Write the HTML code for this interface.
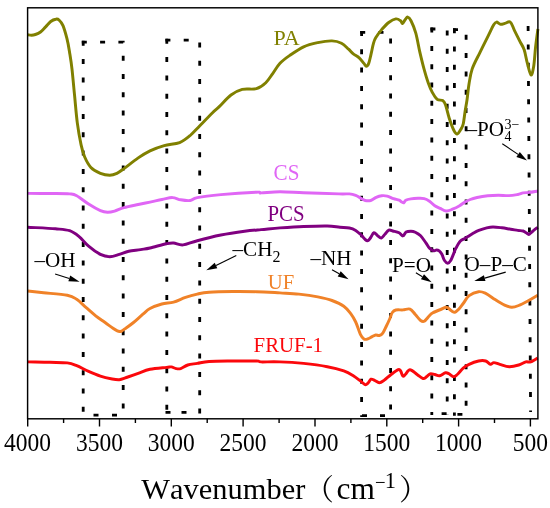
<!DOCTYPE html><html><head><meta charset="utf-8"><title>FTIR</title>
<style>html,body{margin:0;padding:0;background:#fff}svg{display:block}text{font-family:"Liberation Serif","Noto Serif CJK SC",serif}</style></head><body>
<svg width="550" height="508" viewBox="0 0 550 508">
<rect width="550" height="508" fill="#fff"/>
<g fill="none" stroke="#000" stroke-width="2.8" stroke-dasharray="5 13.30">
<path d="M81.8 42.2H123.2V416.5"/>
<path d="M83.2 40.8V416.5"/>
<path d="M165.4 40.2H199.7V413.8"/>
<path d="M166.8 38.8V413.8"/>
<path d="M360.2 32.4H390.6V417.1"/>
<path d="M361.6 31.0V417.1"/>
<path d="M430.4 29.0H447.2V415.1"/>
<path d="M431.8 27.6V415.1"/>
<path d="M453.0 29.6H466.1V415.8"/>
<path d="M454.4 28.2V415.8"/>
<path d="M528.1 26.1L530.6 412.1"/>
</g>
<path d="M93.5 415.1h5M112.0 415.1h5M165.5 412.4h5M181.5 412.4h5M362.0 415.7h5M380.0 415.7h5M441.6 413.7h5M457.4 414.4h5" stroke="#000" stroke-width="2.8" fill="none"/>
<g fill="none" stroke-width="2.95" stroke-linejoin="round" stroke-linecap="butt">
<path stroke="#808000" d="M27.8 34.8C28.4 34.9 30.2 35.3 31.5 35.3C32.8 35.2 33.9 35.0 35.4 34.5C36.9 34.0 38.8 33.3 40.5 32.0C42.2 30.7 43.9 28.6 45.6 26.9C47.3 25.1 49.0 22.8 50.7 21.5C52.4 20.2 54.4 19.4 55.8 19.2C57.2 18.9 57.8 18.9 59.0 20.0C60.2 21.1 61.7 22.5 63.0 25.6C64.3 28.7 65.8 34.1 66.9 38.4C68.0 42.7 68.6 46.1 69.4 51.2C70.2 56.3 71.2 61.8 72.0 69.1C72.8 76.3 73.6 85.7 74.5 94.7C75.4 103.7 76.2 114.5 77.3 122.9C78.4 131.3 79.9 139.3 81.1 144.9C82.3 150.5 83.0 152.9 84.6 156.7C86.2 160.4 88.3 164.6 90.9 167.4C93.5 170.2 97.2 172.0 100.4 173.3C103.6 174.6 107.0 175.2 109.8 175.2C112.5 175.2 114.5 174.4 116.9 173.3C119.3 172.2 120.5 171.2 124.0 168.6C127.5 166.0 133.9 160.9 138.2 157.9C142.5 154.9 145.7 152.9 150.0 150.8C154.3 148.8 159.3 147.0 164.2 145.6C169.1 144.2 175.3 144.3 179.6 142.6C183.9 140.9 186.9 138.3 190.2 135.5C193.5 132.7 195.9 129.8 199.6 126.0C203.3 122.2 209.0 116.3 212.3 113.0C215.6 109.7 216.4 109.4 219.5 106.4C222.6 103.4 227.2 97.8 231.0 95.0C234.8 92.2 238.0 90.5 242.2 89.4C246.4 88.4 252.5 89.8 256.4 88.7C260.3 87.6 263.1 85.3 265.8 82.7C268.6 80.1 270.5 76.5 272.9 73.3C275.3 70.0 277.2 66.2 280.0 63.2C282.8 60.2 285.6 58.3 289.5 55.6C293.4 52.9 298.9 49.0 303.6 46.8C308.3 44.6 313.1 43.6 317.8 42.6C322.5 41.6 328.1 40.8 332.0 40.9C335.9 41.0 338.7 41.9 341.5 43.3C344.3 44.7 346.6 47.4 348.6 49.2C350.6 51.0 351.5 52.5 353.3 53.9C355.1 55.3 357.4 56.3 359.2 57.9C361.0 59.5 362.7 62.0 363.9 63.4C365.1 64.8 365.5 66.2 366.3 66.2C367.1 66.2 367.9 65.4 368.7 63.4C369.5 61.4 370.2 57.7 371.0 54.4C371.8 51.1 372.6 46.5 373.4 43.7C374.2 40.9 374.3 40.1 375.7 37.8C377.1 35.4 379.5 32.1 381.7 29.6C383.9 27.1 386.3 24.3 388.7 22.5C391.1 20.7 393.8 19.2 395.8 18.9C397.8 18.6 399.5 20.0 400.6 20.8C401.7 21.6 401.7 23.8 402.5 23.6C403.3 23.4 404.4 20.6 405.3 19.5C406.2 18.4 406.8 16.9 407.7 17.1C408.6 17.3 409.6 18.0 411.0 20.7C412.4 23.4 414.3 27.8 415.8 33.1C417.3 38.4 418.5 46.4 419.9 52.4C421.3 58.4 422.6 63.9 424.0 68.9C425.4 74.0 426.8 78.8 428.2 82.7C429.6 86.6 430.8 89.6 432.3 92.4C433.8 95.2 435.5 97.9 437.2 99.3C438.9 100.7 441.3 99.7 442.7 100.6C444.1 101.5 444.4 101.8 445.5 104.8C446.6 107.8 447.9 114.3 449.3 118.5C450.7 122.7 452.4 127.4 453.7 130.0C455.0 132.6 456.0 134.1 457.2 134.0C458.4 133.9 459.7 131.3 460.7 129.6C461.7 127.9 462.5 126.9 463.2 124.0C463.9 121.1 464.4 116.0 465.0 112.0C465.6 108.0 466.3 104.7 467.0 100.0C467.7 95.3 468.1 89.2 469.0 84.0C469.9 78.8 470.4 74.2 472.2 68.9C474.0 63.6 477.3 57.9 480.0 52.4C482.7 46.9 485.9 40.4 488.2 35.8C490.5 31.2 492.3 27.1 493.7 24.8C495.1 22.5 495.4 22.2 496.5 22.1C497.6 22.0 499.2 24.1 500.6 24.3C502.0 24.5 503.2 23.8 504.8 23.4C506.4 23.0 508.7 21.0 510.3 22.1C511.9 23.2 512.8 27.1 514.4 30.3C516.0 33.5 518.3 38.2 519.9 41.4C521.5 44.6 522.9 45.9 524.1 49.6C525.4 53.3 526.2 59.2 527.4 63.4C528.5 67.6 530.0 74.5 531.0 75.0C532.0 75.5 532.9 70.9 533.7 66.2C534.5 61.5 534.9 53.1 535.6 46.9C536.3 40.7 537.5 32.0 537.9 29.0"/>
<path stroke="#e066f5" d="M27.8 193.4C31.5 193.4 43.0 193.4 50.0 193.5C57.0 193.6 65.1 193.5 69.6 193.9C74.0 194.3 73.5 194.0 76.7 195.7C79.9 197.4 84.6 201.5 88.6 204.0C92.5 206.5 97.2 209.2 100.4 210.6C103.6 212.0 105.1 212.2 107.5 212.3C109.9 212.4 111.8 211.9 114.6 211.1C117.3 210.3 120.1 208.7 124.0 207.6C127.9 206.5 133.9 205.4 138.2 204.5C142.5 203.6 146.0 202.9 150.0 202.1C154.0 201.3 158.2 200.2 162.0 199.5C165.8 198.8 169.4 197.5 172.5 197.6C175.6 197.7 177.8 199.3 180.7 199.8C183.6 200.3 187.4 200.9 190.2 200.5C193.0 200.1 192.2 198.6 197.3 197.6C202.4 196.6 211.1 195.5 220.9 194.6C230.8 193.7 249.7 192.5 256.4 192.2C263.1 191.9 257.2 193.0 261.1 192.9C265.0 192.8 272.9 191.7 280.0 191.7C287.1 191.7 293.8 192.3 303.6 192.7C313.5 193.1 331.5 193.7 339.1 193.9C346.7 194.1 346.6 193.7 349.4 193.9C352.2 194.1 353.8 194.6 355.7 195.3C357.6 196.0 358.9 197.2 360.5 198.1C362.1 199.0 363.5 200.1 365.2 200.5C366.9 200.9 368.9 201.0 370.7 200.5C372.5 200.0 374.4 198.1 376.2 197.3C378.0 196.5 379.9 195.9 381.7 195.7C383.5 195.5 385.2 195.6 387.2 196.1C389.2 196.6 391.5 197.9 393.5 198.6C395.5 199.3 397.7 199.6 399.1 200.2C400.5 200.8 400.9 201.6 401.7 202.0C402.5 202.4 403.1 203.1 403.8 202.8C404.5 202.5 404.6 200.8 405.8 200.2C407.0 199.5 408.9 199.2 410.9 198.9C412.9 198.6 415.8 198.4 418.0 198.3C420.2 198.2 422.3 198.1 424.2 198.6C426.1 199.1 427.7 200.0 429.5 201.2C431.3 202.4 433.0 204.5 434.8 205.7C436.6 206.9 438.2 207.4 440.1 208.3C442.0 209.2 444.2 210.8 446.3 211.0C448.4 211.2 450.3 210.1 452.5 209.2C454.7 208.3 457.5 206.9 459.6 205.7C461.7 204.5 463.1 203.1 464.9 202.1C466.7 201.1 468.2 200.3 470.2 199.5C472.2 198.7 474.2 198.1 477.1 197.5C480.0 196.9 484.2 196.2 487.7 195.8C491.2 195.4 494.8 195.2 498.3 195.2C501.8 195.2 505.6 195.7 508.9 195.6C512.1 195.5 515.4 194.9 517.8 194.5C520.2 194.1 521.2 193.2 523.1 192.9C525.0 192.6 526.8 192.7 529.3 192.4C531.8 192.1 536.4 191.2 537.8 191.0"/>
<path stroke="#800080" d="M27.8 227.2C32.4 227.5 48.5 228.2 55.5 228.8C62.5 229.4 65.7 229.4 69.6 230.7C73.5 232.0 75.9 234.0 79.1 236.6C82.3 239.2 85.0 243.1 88.6 246.1C92.1 249.1 96.9 252.6 100.4 254.4C103.9 256.2 106.7 256.7 109.8 256.7C112.9 256.7 116.2 255.3 119.3 254.4C122.4 253.5 125.1 252.1 128.7 251.3C132.2 250.5 137.0 250.2 140.6 249.6C144.2 249.0 145.7 249.0 150.0 248.0C154.3 247.0 162.6 244.5 166.5 243.7C170.4 242.9 170.8 242.8 173.6 243.0C176.4 243.2 179.1 245.3 183.1 244.9C187.1 244.5 191.0 242.3 197.3 240.7C203.6 239.0 213.0 236.6 220.9 235.0C228.8 233.4 237.9 232.1 244.6 231.2C251.3 230.3 255.2 230.1 261.1 229.6C267.0 229.1 272.9 228.4 280.0 227.9C287.1 227.4 295.7 226.8 303.6 226.5C311.5 226.2 321.2 225.9 327.3 226.0C333.4 226.1 336.3 226.9 340.0 227.2C343.7 227.5 346.8 227.5 349.4 228.0C352.0 228.5 353.7 229.2 355.7 230.4C357.7 231.6 359.7 233.6 361.3 235.1C362.9 236.6 364.1 238.6 365.2 239.5C366.3 240.4 367.1 240.9 368.0 240.6C368.9 240.3 369.7 238.8 370.7 237.5C371.7 236.2 372.7 233.1 373.9 232.8C375.1 232.5 376.6 235.0 377.8 235.9C379.0 236.8 380.1 238.3 381.3 238.0C382.5 237.7 383.6 235.6 384.9 234.3C386.1 233.0 387.4 230.6 388.8 230.1C390.2 229.6 391.8 230.8 393.5 231.2C395.2 231.6 397.5 232.0 399.1 232.8C400.7 233.6 401.8 236.0 403.0 235.9C404.2 235.8 404.8 232.8 406.1 232.0C407.4 231.2 409.4 231.2 410.9 231.2C412.4 231.2 413.7 231.4 415.3 232.2C416.9 233.0 418.8 234.0 420.6 235.8C422.4 237.6 424.4 240.8 425.9 242.8C427.4 244.9 428.2 246.8 429.5 248.1C430.8 249.4 432.7 250.5 433.9 250.8C435.1 251.1 435.6 249.9 436.5 249.9C437.4 249.9 438.3 250.1 439.2 250.8C440.1 251.5 441.0 252.7 441.9 254.3C442.8 255.9 443.5 259.0 444.5 260.5C445.5 262.0 446.7 263.2 447.7 263.2C448.7 263.2 449.8 262.0 450.7 260.5C451.6 259.0 452.5 256.4 453.4 254.3C454.3 252.2 454.8 250.3 456.0 248.1C457.2 245.9 458.9 242.7 460.4 241.1C461.9 239.5 463.6 239.2 464.9 238.4C466.2 237.6 467.0 237.2 468.4 236.3C469.8 235.4 471.8 234.1 473.5 233.1C475.2 232.1 476.7 231.2 478.8 230.4C480.9 229.6 483.5 228.7 485.9 228.1C488.3 227.5 490.3 226.9 493.0 226.9C495.7 226.9 498.9 227.4 501.9 227.8C504.8 228.2 508.1 228.8 510.7 229.2C513.4 229.6 515.7 230.1 517.8 230.4C519.9 230.7 521.6 230.6 523.1 231.0C524.6 231.4 525.7 232.5 526.6 233.1C527.5 233.7 528.0 234.6 528.8 234.5C529.5 234.4 530.1 233.5 531.1 232.7C532.1 231.9 533.5 230.5 534.6 229.6C535.7 228.7 537.3 227.8 537.8 227.4"/>
<path stroke="#f08228" d="M27.8 291.0C30.4 291.3 37.0 292.0 43.6 292.7C50.2 293.4 61.8 294.2 67.3 295.3C72.8 296.4 73.5 297.2 76.7 299.3C79.9 301.4 83.0 304.9 86.2 307.6C89.4 310.4 92.6 313.3 95.7 315.8C98.8 318.3 102.2 320.4 105.1 322.5C108.0 324.6 111.0 326.9 113.0 328.3C115.0 329.7 116.2 330.3 117.3 330.8C118.4 331.3 118.9 331.4 119.6 331.5C120.3 331.6 120.7 331.6 121.6 331.1C122.5 330.6 123.2 330.0 125.2 328.6C127.2 327.2 130.6 324.9 133.5 322.5C136.4 320.1 140.2 316.5 142.9 314.2C145.7 311.9 146.8 310.2 150.0 308.5C153.2 306.8 157.9 305.1 161.8 304.0C165.7 302.9 169.7 303.2 173.6 302.1C177.5 301.0 181.6 298.7 185.5 297.4C189.4 296.1 193.4 295.0 197.3 294.1C201.2 293.2 203.2 292.6 209.1 292.2C215.0 291.8 224.8 291.6 232.7 291.5C240.6 291.4 248.5 291.5 256.4 291.7C264.3 291.9 272.9 292.5 280.0 292.9C287.1 293.3 292.6 293.4 298.9 294.1C305.2 294.8 312.3 295.8 317.8 296.9C323.3 298.0 327.7 298.9 332.0 300.5C336.3 302.1 340.7 304.0 343.8 306.2C346.9 308.4 348.9 311.2 350.9 313.8C352.9 316.4 354.1 318.6 355.7 322.0C357.3 325.4 359.0 331.5 360.4 334.3C361.8 337.1 362.7 338.2 363.9 339.0C365.1 339.8 366.1 339.4 367.5 339.0C368.9 338.6 370.8 337.3 372.2 336.6C373.6 335.9 374.5 335.2 375.7 335.0C376.9 334.8 378.1 335.8 379.3 335.5C380.5 335.2 381.6 334.7 382.8 333.1C384.0 331.5 385.2 328.4 386.4 326.0C387.6 323.6 388.9 320.8 389.9 318.5C390.9 316.2 391.3 313.9 392.3 312.5C393.3 311.1 394.0 310.4 395.8 310.0C397.6 309.6 400.5 310.0 402.9 309.9C405.3 309.8 407.9 308.3 410.0 309.1C412.1 309.9 413.5 312.6 415.3 314.5C417.1 316.4 419.1 319.4 420.6 320.5C422.1 321.6 422.8 322.0 424.2 321.3C425.6 320.6 427.5 317.7 428.9 316.3C430.3 314.9 430.5 314.1 432.5 313.0C434.5 311.9 438.3 310.4 440.7 309.5C443.1 308.6 444.8 307.1 446.6 307.3C448.4 307.5 450.0 310.0 451.4 310.8C452.8 311.6 453.7 312.5 454.9 312.3C456.1 312.1 457.1 311.0 458.5 309.5C459.9 308.0 461.4 305.8 463.2 303.5C465.0 301.2 466.5 297.7 469.1 295.7C471.7 293.7 475.8 292.1 478.6 291.7C481.4 291.3 482.9 292.1 485.7 293.4C488.4 294.7 492.0 297.6 495.1 299.6C498.2 301.6 501.8 303.9 504.6 305.2C507.4 306.5 509.3 307.2 511.7 307.3C514.0 307.4 516.0 306.6 518.7 305.5C521.5 304.4 525.0 302.5 528.2 300.8C531.4 299.1 536.1 296.2 537.7 295.3"/>
<path stroke="#fb080c" d="M27.8 361.9C31.5 362.0 43.4 362.1 50.0 362.3C56.6 362.5 62.8 362.3 67.3 362.9C71.8 363.5 73.2 364.3 76.7 365.7C80.2 367.1 84.6 369.7 88.6 371.4C92.5 373.1 96.5 374.8 100.4 376.1C104.3 377.4 109.1 378.4 112.2 379.0C115.3 379.6 116.9 379.9 119.3 379.7C121.7 379.4 123.2 378.6 126.4 377.5C129.6 376.4 134.3 374.7 138.2 373.3C142.1 371.9 145.3 370.3 150.0 369.3C154.7 368.3 162.9 367.8 166.5 367.4C170.1 367.0 169.7 366.7 171.3 366.9C172.9 367.1 174.4 368.3 176.0 368.6C177.6 368.9 178.7 369.2 180.7 368.6C182.7 368.0 185.0 365.9 187.8 365.0C190.6 364.1 193.8 364.0 197.3 363.4C200.9 362.8 203.2 361.9 209.1 361.5C215.0 361.1 224.8 361.1 232.7 361.0C240.6 360.9 251.7 360.9 256.4 361.0C261.1 361.1 257.2 361.8 261.1 361.9C265.0 362.0 272.9 361.6 280.0 361.9C287.1 362.1 295.7 362.6 303.6 363.4C311.5 364.2 320.6 365.4 327.3 366.7C334.0 367.9 339.5 369.4 343.8 370.9C348.1 372.4 350.5 374.0 353.3 375.7C356.1 377.4 358.4 379.4 360.4 380.9C362.4 382.4 363.9 384.2 365.1 384.6C366.4 385.0 366.9 384.1 367.9 383.2C368.9 382.3 369.9 379.7 371.0 379.2C372.1 378.7 373.2 379.8 374.6 380.4C376.0 381.0 377.7 382.7 379.3 382.7C380.9 382.7 382.0 381.8 384.0 380.4C386.0 379.0 388.7 376.3 391.1 374.5C393.5 372.7 396.6 370.3 398.2 369.7C399.8 369.1 399.8 369.8 400.6 370.9C401.4 372.0 402.1 375.5 402.9 376.1C403.7 376.7 404.1 375.6 405.3 374.5C406.5 373.4 408.0 369.7 410.0 369.7C412.0 369.7 414.9 373.0 417.1 374.5C419.3 376.0 421.4 378.1 423.0 378.5C424.6 378.9 425.3 377.6 426.5 376.8C427.7 376.0 428.7 374.2 430.1 373.8C431.5 373.4 433.2 374.2 434.8 374.5C436.4 374.8 437.8 376.0 439.6 375.7C441.4 375.4 443.9 373.1 445.5 372.8C447.1 372.5 447.6 373.1 449.0 373.8C450.4 374.5 452.3 376.7 453.7 376.8C455.1 376.9 455.7 375.9 457.3 374.5C458.9 373.1 461.2 369.8 463.2 368.1C465.2 366.4 466.5 365.5 469.1 364.3C471.7 363.1 475.8 361.6 478.6 361.0C481.4 360.4 483.7 360.4 485.7 361.0C487.7 361.6 489.0 364.0 490.4 364.3C491.8 364.6 492.3 362.6 493.9 362.6C495.5 362.6 497.2 363.6 499.8 364.3C502.4 365.0 506.1 366.6 509.3 366.7C512.5 366.8 516.0 365.8 518.7 365.0C521.5 364.2 523.8 362.4 525.8 361.9C527.8 361.4 528.6 362.6 530.6 361.9C532.6 361.2 536.5 358.6 537.7 357.9"/>
</g>
<rect x="27.6" y="7.8" width="510.3" height="411.0" fill="none" stroke="#000" stroke-width="1.45"/>
<path d="M27.7 418.8v7.6M63.6 418.8v4.3M99.5 418.8v7.6M135.4 418.8v4.3M171.3 418.8v7.6M207.2 418.8v4.3M243.1 418.8v7.6M279.1 418.8v4.3M315.0 418.8v7.6M350.9 418.8v4.3M386.8 418.8v7.6M422.7 418.8v4.3M458.6 418.8v7.6M494.5 418.8v4.3M530.4 418.8v7.6" stroke="#000" stroke-width="1.4" fill="none"/>
<text transform="translate(27.6 450.8) scale(0.955 1)" font-size="24.6" text-anchor="middle">4000</text>
<text transform="translate(99.4 450.8) scale(0.955 1)" font-size="24.6" text-anchor="middle">3500</text>
<text transform="translate(171.2 450.8) scale(0.955 1)" font-size="24.6" text-anchor="middle">3000</text>
<text transform="translate(243.0 450.8) scale(0.955 1)" font-size="24.6" text-anchor="middle">2500</text>
<text transform="translate(314.9 450.8) scale(0.955 1)" font-size="24.6" text-anchor="middle">2000</text>
<text transform="translate(386.7 450.8) scale(0.955 1)" font-size="24.6" text-anchor="middle">1500</text>
<text transform="translate(458.5 450.8) scale(0.955 1)" font-size="24.6" text-anchor="middle">1000</text>
<text transform="translate(530.3 450.8) scale(0.955 1)" font-size="24.6" text-anchor="middle">500</text>
<text x="141.2" y="499.4" font-size="30.4" style="font-kerning:none" letter-spacing="0.05">Wavenumber</text>
<text x="304.6" y="500.1" font-size="29.5" font-family="'Noto Serif CJK SC',serif">（</text>
<text x="336.6" y="499.3" font-size="31.4">cm</text>
<text x="375" y="489.4" font-size="20" textLength="10.6" lengthAdjust="spacingAndGlyphs">−</text>
<text x="384.8" y="488" font-size="22.5">1</text>
<text x="399" y="500.1" font-size="29.5" font-family="'Noto Serif CJK SC',serif">）</text>
<text transform="translate(273.6 44.5) scale(1 1)" font-size="22" fill="#808000">PA</text>
<text transform="translate(273.6 179.9) scale(0.92 1)" font-size="23" fill="#e066f5">CS</text>
<text transform="translate(267.5 221.1) scale(0.915 1)" font-size="22.8" fill="#800080">PCS</text>
<text transform="translate(267.7 289.3) scale(0.95 1)" font-size="21.8" fill="#f08228">UF</text>
<text transform="translate(253.6 351.5) scale(0.947 1)" font-size="22" fill="#fb080c">FRUF-1</text>
<text transform="translate(34.5 267.3) scale(0.97 1)" font-size="21.8">–OH</text>
<text transform="translate(232.5 256.3) scale(0.97 1)" font-size="21.8">–CH<tspan dy="5.8" font-size="16.5">2</tspan></text>
<text transform="translate(310.5 264.6) scale(0.97 1)" font-size="21.8">–NH</text>
<text transform="translate(392.1 271.9) scale(0.97 1)" font-size="21.8">P=O</text>
<text transform="translate(464.6 270.7) scale(0.97 1)" font-size="21.8">O–P–C</text>
<text transform="translate(466.5 135.8) scale(0.97 1)" font-size="21.8">–PO</text>
<text x="504.4" y="141.4" font-size="14">4</text>
<text x="504.4" y="128.6" font-size="14">3−</text>
<path d="M55.1 274.0L69.3 278.5" stroke="#000" stroke-width="1.1" fill="none"/><path d="M79.6 281.7L68.4 281.3L70.2 275.6Z" fill="#000"/>
<path d="M236.3 255.6L216.0 265.5" stroke="#000" stroke-width="1.1" fill="none"/><path d="M206.3 270.2L214.7 262.8L217.3 268.2Z" fill="#000"/>
<path d="M332.0 269.7L339.2 273.8" stroke="#000" stroke-width="1.1" fill="none"/><path d="M348.6 279.2L337.7 276.4L340.7 271.2Z" fill="#000"/>
<path d="M415.9 272.8L422.4 276.7" stroke="#000" stroke-width="1.1" fill="none"/><path d="M431.7 282.3L420.9 279.3L424.0 274.2Z" fill="#000"/>
<path d="M505.7 272.1L484.7 278.1" stroke="#000" stroke-width="1.1" fill="none"/><path d="M474.3 281.1L483.9 275.2L485.5 281.0Z" fill="#000"/>
<path d="M502.3 143.7L518.1 154.4" stroke="#000" stroke-width="1.1" fill="none"/><path d="M527.0 160.5L516.4 156.9L519.8 151.9Z" fill="#000"/>
</svg></body></html>
